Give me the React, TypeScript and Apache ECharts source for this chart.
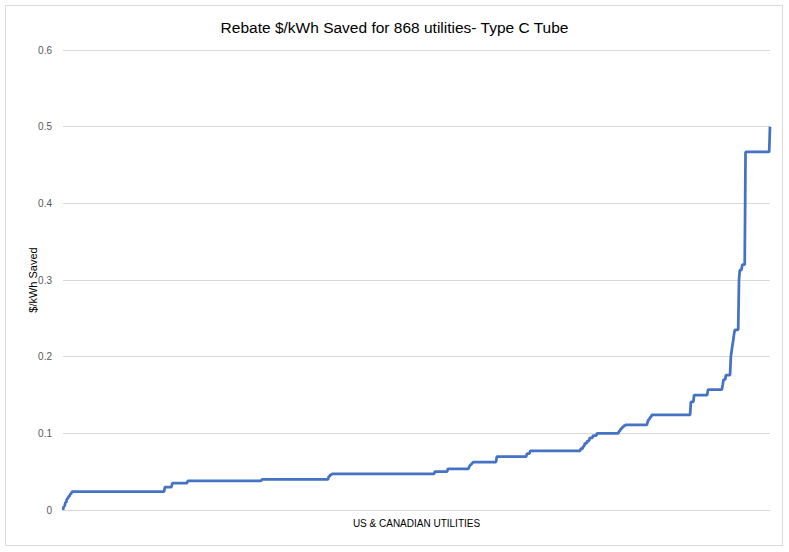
import React, { useEffect, useRef } from "react";
import * as echarts from "echarts";

const titleText = "Rebate $/kWh Saved for 868 utilities- Type C Tube";
const yAxisName = "$/kWh Saved";
const xAxisName = "US & CANADIAN UTILITIES";
const yTicks = [0, 0.1, 0.2, 0.3, 0.4, 0.5, 0.6];

// sorted rebate values as steps: value and how many utilities share it
const stepValues = [
  0, 0.005, 0.01, 0.015, 0.018, 0.021, 0.024, 0.03, 0.035, 0.038, 0.04,
  0.044, 0.046, 0.047, 0.05, 0.0535, 0.056, 0.058, 0.059, 0.06, 0.061,
  0.0625, 0.0696, 0.0735, 0.077, 0.08, 0.083, 0.087, 0.09, 0.094, 0.097,
  0.1, 0.103, 0.106, 0.108, 0.11, 0.111, 0.115, 0.118, 0.121, 0.124,
  0.141, 0.15, 0.157, 0.163, 0.17, 0.176, 0.2, 0.208, 0.215, 0.222, 0.23,
  0.235, 0.3, 0.313, 0.32, 0.467, 0.5,
];
const stepCounts = [
  1, 2, 2, 2, 2, 2, 114, 9, 19, 91, 82,
  2, 2, 126, 16, 26, 1, 1, 1, 1, 1,
  29, 37, 4, 62, 3, 2, 3, 3, 4, 5,
  27, 2, 2, 2, 2, 27, 1, 2, 2, 48,
  4, 17, 18, 1, 3, 6, 1, 1, 1, 1, 1,
  5, 1, 3, 4, 30, 1,
];

export default function App() {
  const ref = useRef<HTMLDivElement>(null);
  useEffect(() => {
    if (!ref.current) return;
    const chart = echarts.init(ref.current, undefined, { renderer: "svg" });
    const data: [number, number][] = [];
    let idx = 0;
    stepValues.forEach((v, i) => {
      for (let k = 0; k < stepCounts[i]; k++) {
        data.push([idx, v]);
        idx++;
      }
    });
    const n = data.length;
    chart.setOption({
      animation: false,
      backgroundColor: "#ffffff",
      title: {
        text: titleText,
        left: "center",
        top: 14,
        textStyle: {
          fontFamily: "Liberation Sans",
          fontSize: 15.5,
          fontWeight: "normal",
          color: "#000000",
        },
      },
      graphic: [
        {
          type: "rect",
          shape: { x: 5.5, y: 5.5, width: 777, height: 540 },
          style: { fill: "none", stroke: "#d9d9d9", lineWidth: 1 },
          silent: true,
        },
      ],
      grid: { left: 63, right: 19, top: 50, bottom: 42 },
      xAxis: {
        type: "value",
        min: 0,
        max: n - 1,
        name: xAxisName,
        nameLocation: "middle",
        nameGap: 8,
        nameTextStyle: { fontFamily: "Liberation Sans", fontSize: 10, color: "#000000" },
        axisLine: { show: true, lineStyle: { color: "#d9d9d9", width: 1 } },
        axisTick: { show: false },
        axisLabel: { show: false },
        splitLine: { show: false },
      },
      yAxis: {
        type: "value",
        min: 0,
        max: yTicks[yTicks.length - 1],
        interval: 0.1,
        name: yAxisName,
        nameLocation: "middle",
        nameRotate: 90,
        nameGap: 25,
        nameMoveOverlap: false,
        nameTextStyle: { fontFamily: "Liberation Sans", fontSize: 11, color: "#000000" },
        axisLine: { show: false },
        axisTick: { show: false },
        axisLabel: {
          fontFamily: "Liberation Sans",
          fontSize: 10,
          color: "#595959",
          margin: 11,
          formatter: (v: number) => String(Math.round(v * 10) / 10),
        },
        splitLine: { show: true, lineStyle: { color: "#d9d9d9", width: 1 } },
      },
      series: [
        {
          type: "line",
          data,
          showSymbol: false,
          symbol: "none",
          lineStyle: { color: "#4472c4", width: 2.75 },
        },
      ],
    });
    return () => chart.dispose();
  }, []);
  return (
    <div
      ref={ref}
      style={{ position: "fixed", left: 0, top: 0, width: 789, height: 552 }}
    />
  );
}
